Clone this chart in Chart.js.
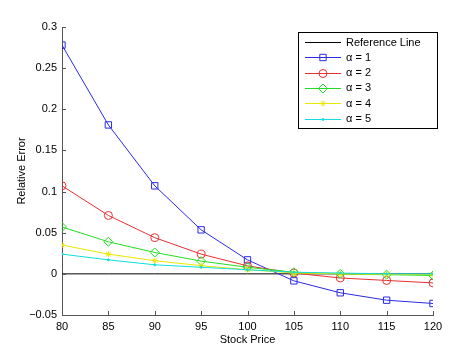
<!DOCTYPE html>
<html><head><meta charset="utf-8">
<script src="https://cdn.jsdelivr.net/npm/chart.js@4/dist/chart.umd.min.js"></script>
<style>html,body{margin:0;padding:0;background:#fff}#wrap{width:474px;height:355px}</style>
</head><body><div id="wrap"><canvas id="c" width="474" height="355"></canvas></div>
<script>
const stockPrices = [80, 85, 90, 95, 100, 105, 110, 115, 120];
const referenceLine = [0, 0, 0, 0, 0, 0, 0, 0, 0];
const alpha1 = [0.278, 0.181, 0.107, 0.0535, 0.017, -0.0085, -0.023, -0.032, -0.036];
const alpha2 = [0.107, 0.071, 0.044, 0.024, 0.0097, 0.001, -0.005, -0.008, -0.011];
const alpha3 = [0.057, 0.039, 0.026, 0.0155, 0.008, 0.002, 0.0, -0.001, -0.002];
const alpha4 = [0.035, 0.024, 0.016, 0.010, 0.005, 0.001, 0.0, -0.0005, -0.001];
const alpha5 = [0.024, 0.017, 0.011, 0.008, 0.005, 0.002, 0.001, 0.0, 0.0];
const xTickLabels = ['80','85','90','95','100','105','110','115','120'];
const yTickValues = [-0.05, 0, 0.05, 0.1, 0.15, 0.2, 0.25, 0.3];
const yTickLabels = ['\u22120.05','0','0.05','0.1','0.15','0.2','0.25','0.3'];
const seriesNames = ['Reference Line','\u03b1 = 1','\u03b1 = 2','\u03b1 = 3','\u03b1 = 4','\u03b1 = 5'];

const FONT = 'Liberation Sans, Arial, Helvetica, sans-serif';
const pts = v => stockPrices.map((x, i) => ({x, y: v[i]}));
const styles = [
  {c:'#000000', ps:false, r:0, fill:false},
  {c:'#2a2ae6', ps:'rect', r:4.5, fill:false},
  {c:'#e83030', ps:'circle', r:4, fill:false},
  {c:'#22dd22', ps:'rectRot', r:4.5, fill:false},
  {c:'#e8e800', ps:'star', r:3, fill:false},
  {c:'#11dddd', ps:'circle', r:1, fill:true}
];
const allData = [referenceLine, alpha1, alpha2, alpha3, alpha4, alpha5];
const datasets = allData.map((d, i) => ({
  label: seriesNames[i],
  data: pts(d),
  borderColor: styles[i].c,
  backgroundColor: styles[i].fill ? styles[i].c : 'rgba(0,0,0,0)',
  borderWidth: 1,
  pointStyle: styles[i].ps || 'circle',
  pointRadius: styles[i].r,
  pointBorderWidth: 1,
  pointHoverRadius: styles[i].r,
  tension: 0,
  order: 6 - i
}));

const tickPlugin = {
  id: 'ticksIn',
  afterDraw(chart) {
    const ctx = chart.ctx, a = chart.chartArea, xs = chart.scales.x, ys = chart.scales.y;
    ctx.save();
    ctx.strokeStyle = '#555';
    ctx.lineWidth = 1;
    ctx.beginPath();
    stockPrices.forEach(v => { const px = Math.round(xs.getPixelForValue(v)) + 0.5; ctx.moveTo(px, a.bottom); ctx.lineTo(px, a.bottom - 4); });
    yTickValues.forEach(v => { const py = Math.round(ys.getPixelForValue(v)) + 0.5; ctx.moveTo(a.left, py); ctx.lineTo(a.left + 4, py); });
    ctx.stroke();
    // legend
    const lx = 298, ly = 32, lw = 139, lh = 96;
    ctx.fillStyle = '#fff';
    ctx.fillRect(lx, ly, lw, lh);
    ctx.strokeStyle = '#000';
    ctx.strokeRect(lx + 0.5, ly + 0.5, lw, lh);
    ctx.font = '11px ' + FONT;
    ctx.textBaseline = 'middle';
    ctx.textAlign = 'left';
    seriesNames.forEach((n, i) => {
      const y = ly + 10 + i * 15.3;
      ctx.strokeStyle = styles[i].c;
      ctx.beginPath(); ctx.moveTo(305, Math.round(y) + 0.5); ctx.lineTo(341, Math.round(y) + 0.5); ctx.stroke();
      if (styles[i].ps) {
        ctx.fillStyle = styles[i].fill ? styles[i].c : 'rgba(0,0,0,0)';
        ctx.strokeStyle = styles[i].c;
        Chart.helpers.drawPoint(ctx, {pointStyle: styles[i].ps, radius: styles[i].r, borderWidth: 1, rotation: 0}, 323, Math.round(y) + 0.5);
      }
      ctx.fillStyle = '#000';
      ctx.fillText(n, 346, y + 0.5);
    });
    ctx.restore();
  }
};

new Chart(document.getElementById('c'), {
  type: 'line',
  data: { datasets },
  plugins: [tickPlugin],
  options: {
    responsive: false,
    animation: false,
    events: [],
    layout: { padding: { top: 27, right: 41, left: 0, bottom: 0 } },
    plugins: { legend: { display: false }, tooltip: { enabled: false } },
    scales: {
      x: {
        type: 'linear', min: 80, max: 120,
        afterBuildTicks: s => { s.ticks = stockPrices.map(v => ({value: v})); },
        afterFit: s => { s.height = 40; },
        grid: { display: false, drawTicks: false },
        border: { display: true, color: '#555', width: 1 },
        ticks: { padding: 5, color: '#000', font: { family: FONT, size: 11 }, maxRotation: 0,
          callback: (v) => xTickLabels[stockPrices.indexOf(v)] },
        title: { display: true, text: 'Stock Price', color: '#000', font: { family: FONT, size: 11 }, padding: { top: 0, bottom: 8 } }
      },
      y: {
        type: 'linear', min: -0.05, max: 0.3,
        afterBuildTicks: s => { s.ticks = yTickValues.map(v => ({value: v})); },
        afterFit: s => { s.width = 62; },
        grid: { display: false, drawTicks: false },
        border: { display: true, color: '#555', width: 1 },
        ticks: { padding: 5, color: '#000', font: { family: FONT, size: 11 },
          callback: (v) => { const i = yTickValues.findIndex(t => Math.abs(t - v) < 1e-9); return i >= 0 ? yTickLabels[i] : ''; } },
        title: { display: true, text: 'Relative Error', color: '#000', font: { family: FONT, size: 11 }, padding: { top: 15, bottom: 4 } }
      }
    }
  }
});
</script></body></html>
